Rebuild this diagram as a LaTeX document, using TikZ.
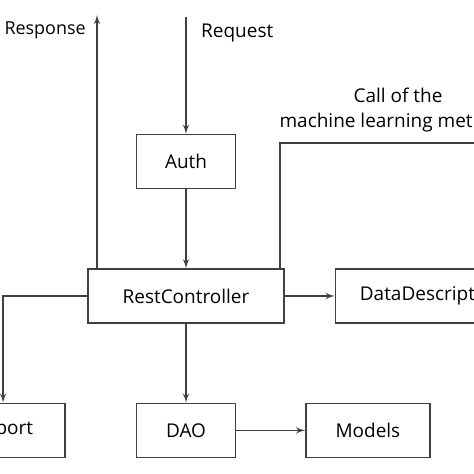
\documentclass[tikz,border=0pt]{standalone}
\usepackage{fontspec}
\setmainfont{Open Sans}
\usepackage{tikz}
\usetikzlibrary{arrows}
\usetikzlibrary{positioning}
\tikzset{box/.style = {draw=black!75, line width=0.8pt, minimum height=1.08cm, inner sep=0}}
\tikzset{link/.style = {draw=black!75, line width=0.8pt, -latex'}}

\begin{document}
\begin{tikzpicture}[font=\fontsize{10.8}{14.7}\selectfont]
    \useasboundingbox (0, 0) rectangle (9.48, 9.48);
    \clip (0, 0) rectangle (9.48, 9.48);

    \node [box, minimum width=3.92cm] (ctrl) at (3.72, 3.56) {RestController};
    \node [box, minimum width=1.98cm, above=1.58cm of ctrl] (auth) {Auth};
    \node [box, minimum width=1.98cm, below=1.58cm of ctrl] (dao) {DAO};
    \node [box, minimum width=3.84cm, right=1cm of ctrl] (descr) {DataDescription};
    \node [box, minimum width=2.48cm, right=1.38cm of dao] (models) {Models};
    \node [box, minimum width=2.48cm, left=1.4cm of dao] (report) {Report};

    \coordinate (resp) at (1.94, 9.18);
    \coordinate (req) at (3.72, 9.14);
    \coordinate (ml) at (5.6, 6.62);
    \coordinate (mlend) at (9.7, 6.62);

    \draw [link] (ctrl.north -| resp) -- (resp);
    \draw [link] (req) -- (auth);
    \draw [link] (auth) -- (ctrl);
    \draw [link] (ctrl) -- (descr);
    \draw [link] (ctrl) -- (dao);
    \draw [link] (dao) -- (models);
    \draw [link] (ctrl.west) -| (report.north);
    \draw [draw=black!75, line width=0.8pt] (ctrl.north -| ml) -- (ml) -- (mlend);

    \node [anchor=east, inner sep=0, font=\fontsize{10.2}{14.7}\selectfont] (resplabel) at (1.72, 8.88) {Response};
    \node [anchor=west] (reqlabel) at (3.9, 8.82) {Request};
    \node [align=center] (mllabel) at (7.96, 7.28) {Call of the\\machine learning methods};
\end{tikzpicture}
\end{document}
